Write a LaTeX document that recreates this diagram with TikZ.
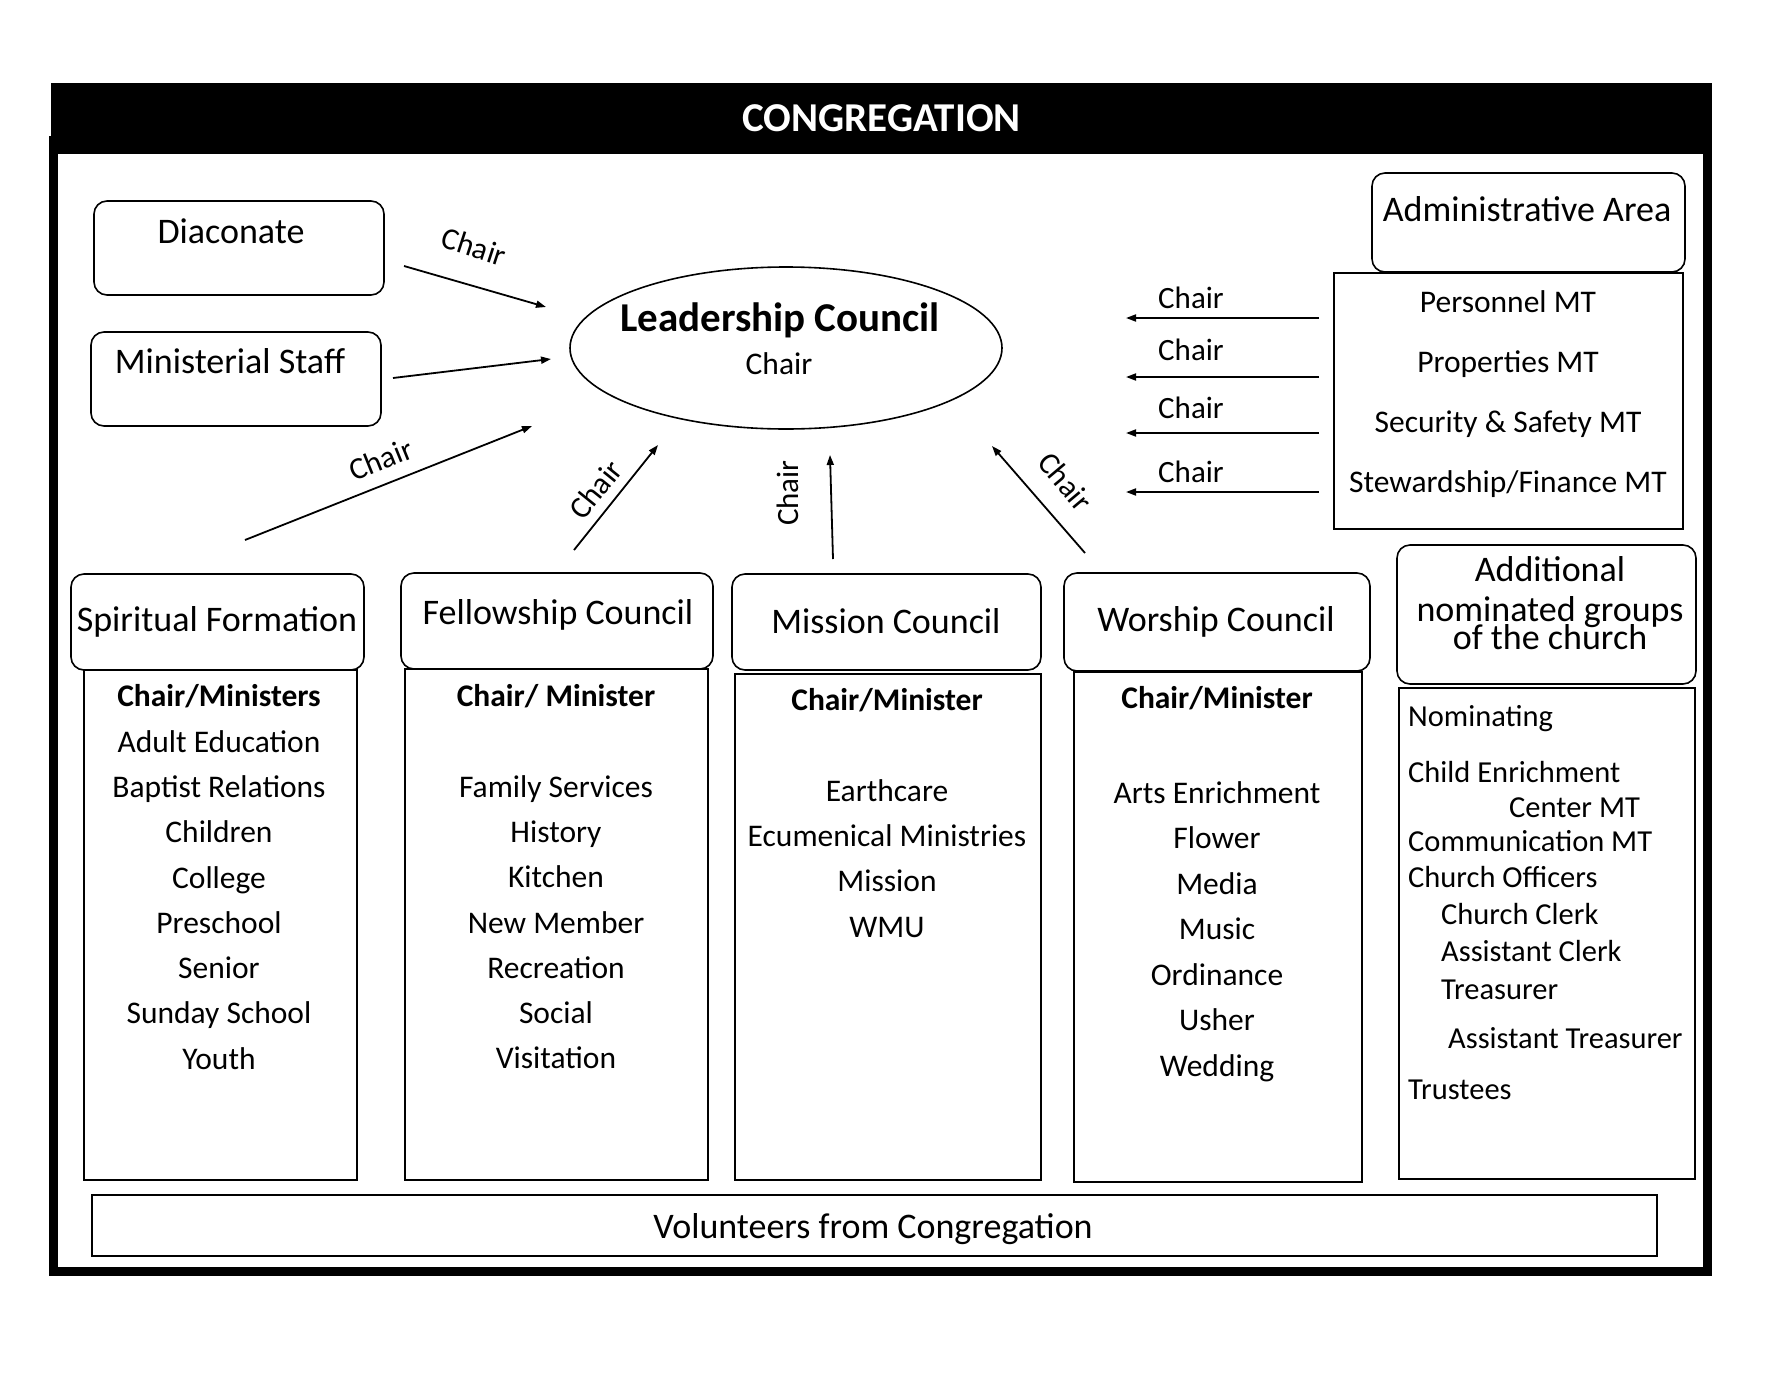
\documentclass[tikz,border=0pt]{standalone}
\usepackage{fontspec}
\setmainfont{Carlito}
\usetikzlibrary{arrows.meta,shapes.geometric}

\tikzset{
  headbox/.style={draw, rounded corners=13pt, line width=1.6pt, inner sep=0pt},
  listbox/.style={draw, line width=1.6pt, inner sep=0pt},
  txt/.style={inner sep=0pt, text depth=0pt},
  title/.style={txt, text height=23.2pt, font=\fontsize{36}{42}\selectfont},
  item/.style={txt, text height=20.3pt, font=\fontsize{31.5}{36}\selectfont},
  additem/.style={txt, anchor=west, text height=19.6pt, font=\fontsize{30.5}{36}\selectfont},
  lead/.style={txt, text height=20.3pt, font=\fontsize{31.5}{36}\selectfont\bfseries},
  chairlbl/.style={txt, text height=20pt, font=\fontsize{31}{36}\selectfont},
  arr/.style={-{Triangle[length=10pt,width=7pt]}, line width=1.8pt},
}

\begin{document}
\begin{tikzpicture}[x=1pt,y=-1pt]
    \useasboundingbox (0,0) rectangle (1791,1384);

    % Frame and banner
    \draw[line width=9pt] (53.5,140) rectangle (1707.5,1271.5);
    \node[fill=black, text=white, minimum width=1661pt, minimum height=71pt, inner sep=0pt,
          text height=26.4pt, text depth=0pt, font=\fontsize{41}{48}\selectfont\bfseries]
          (cong) at (881.5,118.5) {CONGREGATION};

    % Leadership council
    \node[ellipse, draw, line width=1.6pt, minimum width=432pt, minimum height=162pt] (lc) at (786,348) {};
    \node[txt, text height=26.4pt, font=\fontsize{41}{48}\selectfont\bfseries] (lct) at (780,318) {Leadership Council};
    \node[item] (lcc) at (779,364) {Chair};

    % Boxes on the left
    \node[headbox, minimum width=290pt, minimum height=94pt] (dia) at (239,248) {};
    \node[title] (diat) at (231,232) {Diaconate};
    \node[headbox, minimum width=290pt, minimum height=94pt] (min) at (236,379) {};
    \node[title] (mint) at (230,362) {Ministerial Staff};

    % Administrative area
    \node[headbox, minimum width=313pt, minimum height=99pt] (admh) at (1528.5,222.5) {};
    \node[title] (admt) at (1527,210) {Administrative Area};
    \node[listbox, minimum width=349pt, minimum height=256pt] (adml) at (1508.5,401) {};
    \foreach \txt [count=\i from 0] in {Personnel MT,Properties MT,Security \& Safety MT,Stewardship/Finance MT}
        \node[item] (adm\i) at (1508,{302+60*\i}) {\txt};

    % Councils
    \node[headbox, minimum width=293pt, minimum height=96pt] (sfh) at (217.5,622) {};
    \node[title] (sft) at (217,620) {Spiritual Formation};
    \node[listbox, minimum width=273pt, minimum height=510pt] (sfl) at (220.5,925) {};
    \node[lead] (sfc) at (219,696) {Chair/Ministers};
    \foreach \txt [count=\i from 0] in {Adult Education,Baptist Relations,Children,College,Preschool,Senior,Sunday School,Youth}
        \node[item] (sf\i) at (219,{742+45.3*\i}) {\txt};

    \node[headbox, minimum width=312pt, minimum height=96pt] (fch) at (557,621) {};
    \node[title] (fct) at (558,613) {Fellowship Council};
    \node[listbox, minimum width=303pt, minimum height=511pt] (fcl) at (556.5,924.5) {};
    \node[lead] (fcc) at (556,696) {Chair/ Minister};
    \foreach \txt [count=\i from 0] in {Family Services,History,Kitchen,New Member,Recreation,Social,Visitation}
        \node[item] (fc\i) at (556,{787+45.3*\i}) {\txt};

    \node[headbox, minimum width=309pt, minimum height=96pt] (mch) at (886.5,622) {};
    \node[title] (mct) at (886,622) {Mission Council};
    \node[listbox, minimum width=306pt, minimum height=506pt] (mcl) at (888,927) {};
    \node[lead] (mcc) at (887,700) {Chair/Minister};
    \foreach \txt [count=\i from 0] in {Earthcare,Ecumenical Ministries,Mission,WMU}
        \node[item] (mc\i) at (887,{791+45.3*\i}) {\txt};

    \node[headbox, minimum width=306pt, minimum height=98pt] (wch) at (1217,622) {};
    \node[title] (wct) at (1216,620) {Worship Council};
    \node[listbox, minimum width=288pt, minimum height=510pt] (wcl) at (1218,927) {};
    \node[lead] (wcc) at (1217,698) {Chair/Minister};
    \foreach \txt [count=\i from 0] in {Arts Enrichment,Flower,Media,Music,Ordinance,Usher,Wedding}
        \node[item] (wc\i) at (1217,{793+45.5*\i}) {\txt};

    % Additional groups
    \node[headbox, minimum width=299pt, minimum height=139pt] (addh) at (1546.5,614.5) {};
    \node[title] (addt1) at (1550,570) {Additional};
    \node[title] (addt2) at (1550,610) {nominated groups};
    \node[title] (addt3) at (1550,638) {of the church};
    \node[listbox, minimum width=296pt, minimum height=491pt] (addl) at (1547,933.5) {};
    \foreach \xx/\yy/\txt [count=\i] in {1408/717/Nominating,1408/773/Child Enrichment,1509/808/Center MT,
        1408/842/Communication MT,1408/878/Church Officers,1441/915/Church Clerk,1441/952/Assistant Clerk,
        1441/990/Treasurer,1448/1039/Assistant Treasurer,1408/1090/Trustees}
        \node[additem] (add\i) at (\xx,\yy) {\txt};

    % Volunteers
    \node[listbox, minimum width=1565pt, minimum height=61pt] (vol) at (874.5,1225.5) {};
    \node[title] (volt) at (873,1227) {Volunteers from Congregation};

    % Arrows into the council
    \coordinate (diaS) at (404,266);  \coordinate (diaE) at (546,307);
    \coordinate (minS) at (393,378);  \coordinate (minE) at (551,359);
    \coordinate (sfS)  at (245,540);  \coordinate (sfE)  at (532,426);
    \coordinate (fcS)  at (574,550);  \coordinate (fcE)  at (658,445);
    \coordinate (mcS)  at (833,559);  \coordinate (mcE)  at (830,455);
    \coordinate (wcS)  at (1085,553); \coordinate (wcE)  at (992,446);
    \draw[arr] (diaS) -- (diaE);
    \draw[arr] (minS) -- (minE);
    \draw[arr] (sfS) -- (sfE);
    \draw[arr] (fcS) -- (fcE);
    \draw[arr] (mcS) -- (mcE);
    \draw[arr] (wcS) -- (wcE);
    \node[chairlbl, rotate=-18] (dial) at (474,247) {Chair};
    \node[chairlbl, rotate=22] (sfla) at (381,460) {Chair};
    \node[chairlbl, rotate=51] (fcla) at (596,490) {Chair};
    \node[chairlbl, rotate=90] (mcla) at (788,493) {Chair};
    \node[chairlbl, rotate=-50] (wcla) at (1065,482) {Chair};

    % Arrows from the administrative area
    \foreach \ay/\ly [count=\i] in {318/298,377/350,433/408,492/472} {
        \coordinate (as\i) at (1319,\ay);
        \coordinate (ae\i) at (1126,\ay);
        \draw[arr] (as\i) -- (ae\i);
        \node[chairlbl] (al\i) at (1191,\ly) {Chair};
    }

\end{tikzpicture}
\end{document}
